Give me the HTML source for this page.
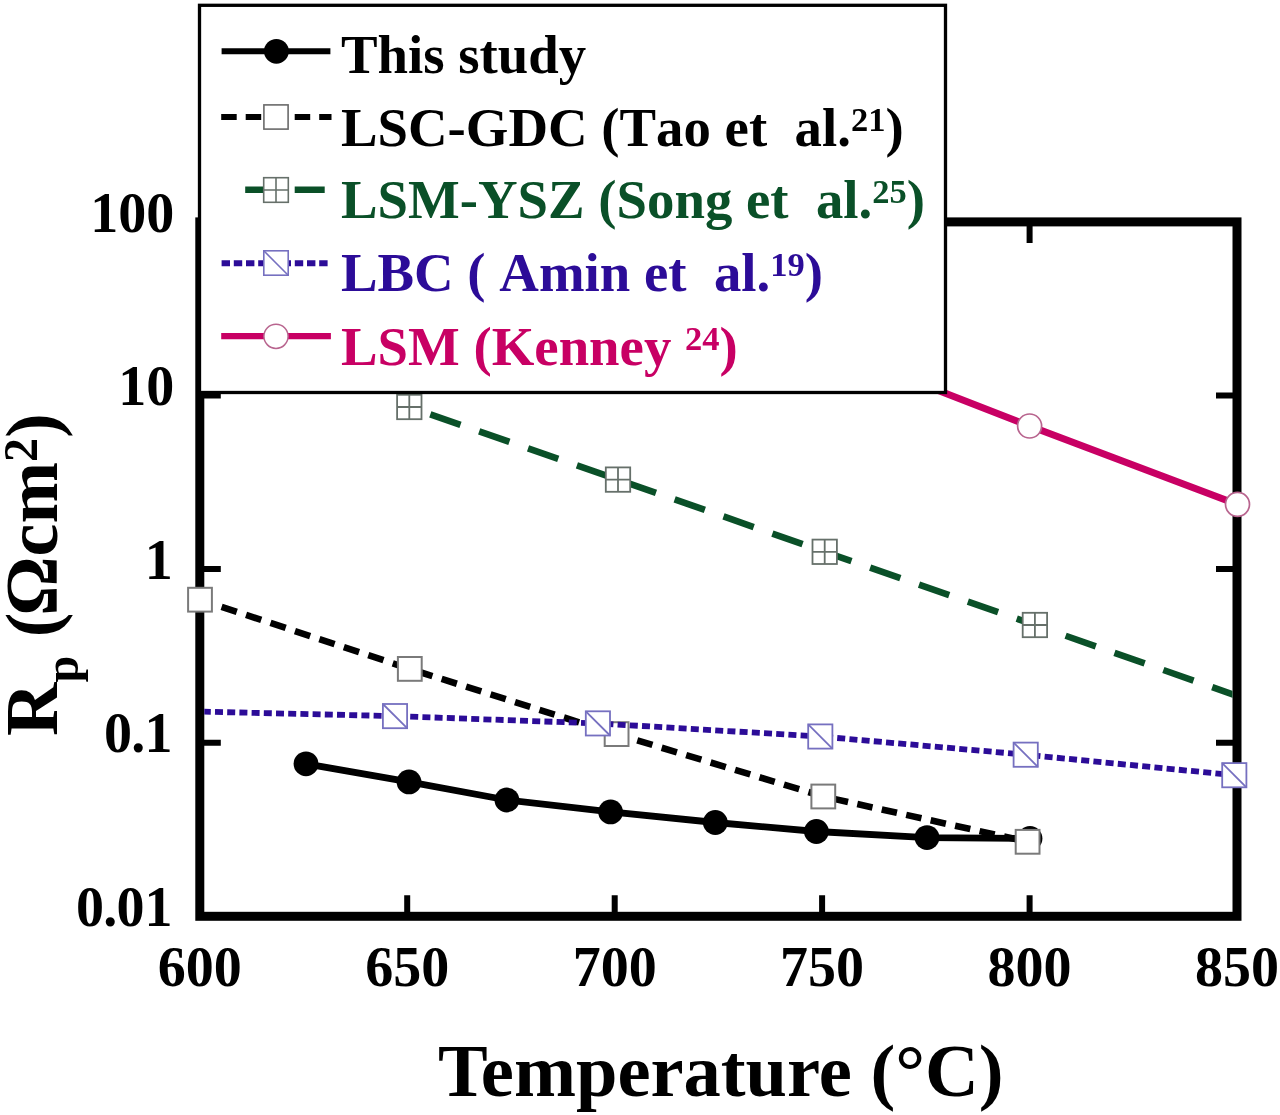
<!DOCTYPE html><html><head><meta charset="utf-8"><style>html,body{margin:0;padding:0;background:#fff;}svg{display:block;}text{font-family:"Liberation Serif","Times New Roman",serif;font-weight:bold;font-kerning:none;}</style></head><body>
<svg width="1280" height="1115" viewBox="0 0 1280 1115">
<rect width="1280" height="1115" fill="#fff"/>
<rect x="199.8" y="221.9" width="1037.2" height="694.4" fill="none" stroke="#000" stroke-width="9"/>
<path d="M199.8,742.7H220.8M1237.0,742.7H1216.0M199.8,569.1H220.8M1237.0,569.1H1216.0M199.8,395.5H220.8M1237.0,395.5H1216.0M407.2,916.3V895.3M407.2,221.9V242.9M614.7,916.3V895.3M614.7,221.9V242.9M822.1,916.3V895.3M822.1,221.9V242.9M1029.6,916.3V895.3M1029.6,221.9V242.9" stroke="#000" stroke-width="6" fill="none"/>
<defs><clipPath id="pc"><rect x="204.3" y="226.4" width="1028.2" height="685.4"/></clipPath></defs>
<polyline clip-path="url(#pc)" points="306.0,763.8 409.0,781.9 506.9,800.0 610.6,811.9 715.3,822.5 816.4,831.5 927.0,837.6 1030.0,838.5" fill="none" stroke="#000" stroke-width="6.8" stroke-linejoin="round"/>
<circle cx="306" cy="763.8" r="12.4" fill="#000" stroke="#000" stroke-width="0"/>
<circle cx="409" cy="781.9" r="12.4" fill="#000" stroke="#000" stroke-width="0"/>
<circle cx="506.9" cy="800" r="12.4" fill="#000" stroke="#000" stroke-width="0"/>
<circle cx="610.6" cy="811.9" r="12.4" fill="#000" stroke="#000" stroke-width="0"/>
<circle cx="715.3" cy="822.5" r="12.4" fill="#000" stroke="#000" stroke-width="0"/>
<circle cx="816.4" cy="831.5" r="12.4" fill="#000" stroke="#000" stroke-width="0"/>
<circle cx="927" cy="837.6" r="12.4" fill="#000" stroke="#000" stroke-width="0"/>
<circle cx="1030" cy="838.5" r="12.4" fill="#000" stroke="#000" stroke-width="0"/>
<path clip-path="url(#pc)" d="M221.60,606.82L236.80,611.84M246.05,614.89L261.25,619.90M270.50,622.95L285.70,627.97M294.95,631.02L310.15,636.03M319.40,639.08L334.60,644.10M343.85,647.15L359.05,652.16M368.30,655.21L383.50,660.23M392.75,663.28L407.95,668.29M417.20,671.23L432.40,676.03M441.65,678.94L456.85,683.73M466.10,686.65L481.30,691.44M490.55,694.36L505.75,699.15M515.00,702.07L530.20,706.86M539.45,709.78L554.65,714.57M563.90,717.48L579.10,722.28M588.35,725.19L603.55,729.99M612.80,732.90L616.60,734.10L628.00,737.54M637.25,740.33L652.45,744.92M661.70,747.72L676.90,752.30M686.15,755.10L701.35,759.68M710.60,762.48L725.80,767.07M735.05,769.86L750.25,774.45M759.50,777.24L774.70,781.83M783.95,784.62L799.15,789.21M808.40,792.00L823.30,796.50L823.60,796.57M832.85,798.62L848.05,801.99M857.30,804.04L872.50,807.41M881.75,809.46L896.95,812.83M906.20,814.88L921.40,818.25M930.65,820.30L945.85,823.67M955.10,825.72L970.30,829.09M979.55,831.15L994.75,834.52M1004.00,836.57L1019.20,839.94" fill="none" stroke="#000" stroke-width="6.6"/>
<rect x="188.1" y="587.8" width="23.8" height="23.8" fill="#fff" stroke="#7a7a7a" stroke-width="2"/>
<rect x="397.9" y="657.0" width="23.8" height="23.8" fill="#fff" stroke="#7a7a7a" stroke-width="2"/>
<rect x="604.7" y="722.2" width="23.8" height="23.8" fill="#fff" stroke="#7a7a7a" stroke-width="2"/>
<rect x="811.4" y="784.6" width="23.8" height="23.8" fill="#fff" stroke="#7a7a7a" stroke-width="2"/>
<rect x="1015.7" y="829.9" width="23.8" height="23.8" fill="#fff" stroke="#7a7a7a" stroke-width="2"/>
<path clip-path="url(#pc)" d="M409.30,407.00L411.63,407.81M430.30,414.31L460.50,424.81M479.17,431.31L509.37,441.81M528.04,448.31L558.24,458.81M576.91,465.31L607.11,475.81M625.78,482.32L655.98,492.87M674.65,499.39L704.85,509.94M723.52,516.46L753.72,527.01M772.39,533.53L802.59,544.08M821.26,550.60L824.70,551.80L851.46,561.12M870.13,567.62L900.33,578.14M919.00,584.64L949.20,595.16M967.87,601.66L998.07,612.17M1016.74,618.68L1034.90,625.00L1046.94,629.22M1065.61,635.76L1095.81,646.34M1114.48,652.88L1144.68,663.46M1163.35,670.00L1193.55,680.58M1212.22,687.12L1237.00,695.80" fill="none" stroke="#0a5028" stroke-width="6.6"/>
<rect x="397.1" y="394.8" width="24.4" height="24.4" fill="#fff" stroke="#66706a" stroke-width="1.8"/><path d="M397.1,407.0H421.5M409.3,394.8V419.2" stroke="#66706a" stroke-width="1.8"/>
<rect x="605.8" y="467.4" width="24.4" height="24.4" fill="#fff" stroke="#66706a" stroke-width="1.8"/><path d="M605.8,479.6H630.2M618.0,467.4V491.8" stroke="#66706a" stroke-width="1.8"/>
<rect x="812.5" y="539.6" width="24.4" height="24.4" fill="#fff" stroke="#66706a" stroke-width="1.8"/><path d="M812.5,551.8H836.9M824.7,539.6V564.0" stroke="#66706a" stroke-width="1.8"/>
<rect x="1022.7" y="612.8" width="24.4" height="24.4" fill="#fff" stroke="#66706a" stroke-width="1.8"/><path d="M1022.7,625.0H1047.1M1034.9,612.8V637.2" stroke="#66706a" stroke-width="1.8"/>
<path clip-path="url(#pc)" d="M202.80,711.66L210.80,711.85M215.00,711.95L223.00,712.13M227.20,712.23L235.20,712.41M239.40,712.51L247.40,712.69M251.60,712.79L259.60,712.98M263.80,713.07L271.80,713.26M276.00,713.35L284.00,713.54M288.20,713.64L296.20,713.82M300.40,713.92L308.40,714.10M312.60,714.20L320.60,714.38M324.80,714.48L332.80,714.66M337.00,714.76L345.00,714.95M349.20,715.04L357.20,715.23M361.40,715.32L369.40,715.51M373.60,715.61L381.60,715.79M385.80,715.89L393.80,716.07M398.00,716.21L406.00,716.50M410.20,716.65L418.20,716.93M422.40,717.09L430.40,717.37M434.60,717.52L442.60,717.81M446.80,717.96L454.80,718.25M459.00,718.40L467.00,718.69M471.20,718.84L479.20,719.13M483.40,719.28L491.40,719.57M495.60,719.72L503.60,720.01M507.80,720.16L515.80,720.45M520.00,720.60L528.00,720.89M532.20,721.04L540.20,721.32M544.40,721.48L552.40,721.76M556.60,721.91L564.60,722.20M568.80,722.35L576.80,722.64M581.00,722.79L589.00,723.08M593.20,723.23L597.90,723.40L601.20,723.59M605.40,723.84L613.40,724.31M617.60,724.56L625.60,725.03M629.80,725.28L637.80,725.75M642.00,726.00L650.00,726.47M654.20,726.72L662.20,727.19M666.40,727.43L674.40,727.91M678.60,728.15L686.60,728.62M690.80,728.87L698.80,729.34M703.00,729.59L711.00,730.06M715.20,730.31L723.20,730.78M727.40,731.03L735.40,731.50M739.60,731.75L747.60,732.22M751.80,732.47L759.80,732.94M764.00,733.18L772.00,733.65M776.20,733.90L784.20,734.37M788.40,734.62L796.40,735.09M800.60,735.34L808.60,735.81M812.80,736.06L820.30,736.50L820.80,736.54M825.00,736.92L833.00,737.63M837.20,738.00L845.20,738.71M849.40,739.08L857.40,739.79M861.60,740.16L869.60,740.87M873.80,741.24L881.80,741.95M886.00,742.32L894.00,743.03M898.20,743.40L906.20,744.11M910.40,744.48L918.40,745.19M922.60,745.56L930.60,746.27M934.80,746.65L942.80,747.35M947.00,747.73L955.00,748.44M959.20,748.81L967.20,749.52M971.40,749.89L979.40,750.60M983.60,750.97L991.60,751.68M995.80,752.05L1003.80,752.76M1008.00,753.13L1016.00,753.84M1020.20,754.21L1025.70,754.70L1028.20,754.95M1032.40,755.36L1040.40,756.14M1044.60,756.56L1052.60,757.34M1056.80,757.76L1064.80,758.54M1069.00,758.96L1077.00,759.74M1081.20,760.15L1089.20,760.94M1093.40,761.35L1101.40,762.14M1105.60,762.55L1113.60,763.34M1117.80,763.75L1125.80,764.54M1130.00,764.95L1138.00,765.74M1142.20,766.15L1150.20,766.94M1154.40,767.35L1162.40,768.13M1166.60,768.55L1174.60,769.33M1178.80,769.75L1186.80,770.53M1191.00,770.94L1199.00,771.73M1203.20,772.14L1211.20,772.93M1215.40,773.34L1223.40,774.13M1227.60,774.54L1234.30,775.20" fill="none" stroke="#2c0c98" stroke-width="5.8"/>
<rect x="382.9" y="704.0" width="24.2" height="24.2" fill="#fff" stroke="#7670c0" stroke-width="1.8"/><path d="M382.9,704.0L407.1,728.2" stroke="#7670c0" stroke-width="1.8"/>
<rect x="585.8" y="711.3" width="24.2" height="24.2" fill="#fff" stroke="#7670c0" stroke-width="1.8"/><path d="M585.8,711.3L610.0,735.5" stroke="#7670c0" stroke-width="1.8"/>
<rect x="808.2" y="724.4" width="24.2" height="24.2" fill="#fff" stroke="#7670c0" stroke-width="1.8"/><path d="M808.2,724.4L832.4,748.6" stroke="#7670c0" stroke-width="1.8"/>
<rect x="1013.6" y="742.6" width="24.2" height="24.2" fill="#fff" stroke="#7670c0" stroke-width="1.8"/><path d="M1013.6,742.6L1037.8,766.8" stroke="#7670c0" stroke-width="1.8"/>
<rect x="1222.2" y="763.1" width="24.2" height="24.2" fill="#fff" stroke="#7670c0" stroke-width="1.8"/><path d="M1222.2,763.1L1246.4,787.3" stroke="#7670c0" stroke-width="1.8"/>
<polyline clip-path="url(#pc)" points="822.0,345.3 1029.6,426.0 1237.5,504.4" fill="none" stroke="#c80064" stroke-width="7"/>
<circle cx="1029.6" cy="426" r="12" fill="#fff" stroke="#b8648e" stroke-width="1.7"/>
<circle cx="1237.5" cy="504.4" r="12" fill="#fff" stroke="#b8648e" stroke-width="1.7"/>
<rect x="199.5" y="5.3" width="746" height="387.2" fill="#fff" stroke="#000" stroke-width="3.3"/>
<path d="M221.6,51.3H330.4" stroke="#000" stroke-width="6"/>
<circle cx="276.4" cy="51.3" r="12.4" fill="#000" stroke="#000" stroke-width="0"/>
<path d="M221.2,117H331.5" stroke="#000" stroke-width="6.2" stroke-dasharray="15.5 9"/>
<rect x="263.9" y="104.9" width="24.2" height="24.2" fill="#fff" stroke="#6a6a6a" stroke-width="1.6"/>
<path d="M245.2,189.8H263.4M294.7,189.8H324.7" stroke="#0a5028" stroke-width="6.5"/>
<rect x="263.7" y="177.7" width="24.6" height="24.6" fill="#fff" stroke="#66706a" stroke-width="1.6"/><path d="M263.7,190.0H288.3M276.0,177.7V202.3" stroke="#66706a" stroke-width="1.6"/>
<path d="M221.6,263.2H328.4" stroke="#2c0c98" stroke-width="6" stroke-dasharray="8.4 3.8"/>
<rect x="263.8" y="250.8" width="24.4" height="24.4" fill="#fff" stroke="#7670c0" stroke-width="1.6"/><path d="M263.8,250.8L288.2,275.2" stroke="#7670c0" stroke-width="1.6"/>
<path d="M221.2,336.1H330.9" stroke="#c80064" stroke-width="6.2"/>
<circle cx="276" cy="336.3" r="12.1" fill="#fff" stroke="#b8648e" stroke-width="1.5"/>
<text x="341" y="72.8" font-size="54.8" fill="#000">This study</text>
<text x="341" y="145.6" font-size="54.8" fill="#000" xml:space="preserve">LSC-GDC (Tao et  al.<tspan font-size="34.5" dy="-15">21</tspan><tspan dy="15">)</tspan></text>
<text x="341" y="218.4" font-size="54.8" fill="#0a5028" xml:space="preserve">LSM-YSZ (Song et  al.<tspan font-size="34.5" dy="-15">25</tspan><tspan dy="15">)</tspan></text>
<text x="341" y="291.3" font-size="54.8" fill="#2c0c98" xml:space="preserve">LBC ( Amin et  al.<tspan font-size="34.5" dy="-15">19</tspan><tspan dy="15">)</tspan></text>
<text x="341" y="364.6" font-size="54.8" fill="#c80064" xml:space="preserve">LSM (Kenney <tspan font-size="34.5" dy="-15">24</tspan><tspan dy="15">)</tspan></text>
<text x="174.3" y="231.5" font-size="56" text-anchor="end">100</text>
<text x="174.3" y="405.1" font-size="56" text-anchor="end">10</text>
<text x="172.8" y="578.7" font-size="56" text-anchor="end">1</text>
<text x="172.5" y="752.3" font-size="56" text-anchor="end">0<tspan dx="-0.8">.</tspan><tspan dx="-0.8">1</tspan></text>
<text x="172.5" y="925.9" font-size="56" text-anchor="end">0<tspan dx="-0.8">.</tspan><tspan dx="-0.8">01</tspan></text>
<text x="199.8" y="986.2" font-size="56" text-anchor="middle">600</text>
<text x="407.2" y="986.2" font-size="56" text-anchor="middle">650</text>
<text x="614.7" y="986.2" font-size="56" text-anchor="middle">700</text>
<text x="822.1" y="986.2" font-size="56" text-anchor="middle">750</text>
<text x="1029.6" y="986.2" font-size="56" text-anchor="middle">800</text>
<text x="1237.0" y="986.2" font-size="56" text-anchor="middle">850</text>
<text x="438" y="1096.3" font-size="74.5" style="font-kerning:normal">Temperature (°C)</text>
<text transform="translate(56.5,736) rotate(-90)" font-size="74" xml:space="preserve">R<tspan font-size="48" dy="21">p</tspan><tspan dy="-21"> (</tspan><tspan dx="-3">Ωcm</tspan><tspan font-size="48" dy="-20">2</tspan><tspan dy="20">)</tspan></text>
</svg></body></html>
